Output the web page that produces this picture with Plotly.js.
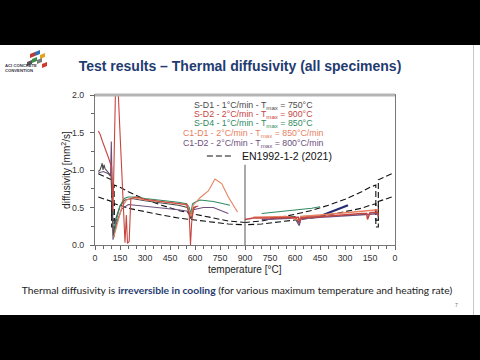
<!DOCTYPE html>
<html><head><meta charset="utf-8">
<script src="https://cdn.plot.ly/plotly-3.0.1.min.js"></script>
<style>
body{margin:0;background:#000;}
#slide{position:relative;width:480px;height:360px;overflow:hidden;background:#fff;}
.bar{position:absolute;left:0;width:480px;background:#000;z-index:5;}
#plot{position:absolute;left:0;top:0;width:480px;height:360px;z-index:1;}
#title{position:absolute;left:0;width:480px;top:58px;line-height:16px;text-align:center;font-weight:bold;font-size:14px;font-family:"Liberation Sans",Arial,sans-serif;color:#1f3b70;z-index:3;}
#foot{position:absolute;left:0;width:474px;top:284px;line-height:13px;text-align:center;font-size:10.3px;font-family:Lato,"Open Sans",sans-serif;color:#222;z-index:3;}
#foot b{color:#1f3b70;}
#num{position:absolute;left:455px;top:302px;font-size:5px;font-family:"Liberation Sans",Arial;color:#666;z-index:3;}
#edge{position:absolute;left:473px;top:45px;width:1px;height:270px;background:#c8c8c8;z-index:3;}
.blk{position:absolute;width:5px;height:4px;z-index:3;transform:skewY(-20deg);}
#logotxt{position:absolute;left:5px;top:64px;font:bold 4.2px "Liberation Sans",Arial;line-height:4.6px;color:#334;z-index:3;}
</style></head>
<body>
<div id="slide">
  <div class="bar" style="top:0;height:45px;"></div>
  <div class="bar" style="top:315px;height:45px;"></div>
  <div id="edge"></div>
  <div class="blk" style="left:30px;top:53px;background:#c0392b"></div>
  <div class="blk" style="left:35px;top:51px;background:#2e6fb5"></div>
  <div class="blk" style="left:40px;top:54px;background:#e5a31c"></div>
  <div class="blk" style="left:32px;top:58px;background:#3b8f4a"></div>
  <div class="blk" style="left:37px;top:59px;background:#7a7a7a"></div>
  <div class="blk" style="left:42px;top:63px;background:#d13a2a"></div>
  <div class="blk" style="left:27px;top:61px;background:#555"></div>
  <div id="logotxt">ACI CONCRETE<br>CONVENTION</div>
  <div id="title">Test results – Thermal diffusivity (all specimens)</div>
  <div id="foot">Thermal diffusivity is <b>irreversible in cooling</b> (for various maximum temperature and heating rate)</div>
  <div id="num">7</div>
  <div id="plot"></div>
</div>
<script>
// ---- axis labels ----
const tickLabels = ['0','150','300','450','600','750','900','750','600','450','300','150','0'];
const yTickLabels = ['0.0','0.5','1.0','1.5','2.0'];
const maxTemp = 900;

// ---- EN1992-1-2 (2021) limits (heating; mirrored in cooling) ----
const enTemps = [20, 60, 100, 100, 115, 115, 150, 200, 300, 400, 500, 600, 700, 800, 900];
const enUpper = [0.95, 0.91, 0.87, 0.33, 0.33, 0.80, 0.77, 0.71, 0.61, 0.53, 0.46, 0.41, 0.36, 0.32, 0.30];
const enLower = [0.64, 0.61, 0.58, 0.24, 0.24, 0.55, 0.53, 0.49, 0.44, 0.40, 0.36, 0.33, 0.30, 0.28, 0.27];

// ---- S-D1 ----
const sd1HeatT = [20, 30, 38, 43, 48, 54, 60, 70, 85, 96, 104, 110, 125, 150, 180, 220, 300, 400, 500, 555, 568, 576, 588, 610];
const sd1HeatD = [0.98, 1.0, 1.05, 1.09, 1.0, 1.07, 1.02, 0.99, 0.95, 0.92, 0.5, 0.12, 0.35, 0.52, 0.6, 0.62, 0.59, 0.56, 0.53, 0.5, 0.42, 0.35, 0.48, 0.52];
const sd1CoolT = [750, 700, 600, 578, 570, 560, 450, 432];
const sd1CoolD = [0.36, 0.37, 0.38, 0.3, 0.33, 0.38, 0.39, 0.4];
const sd1CoolT2 = [432, 400, 360, 320, 282];
const sd1CoolD2 = [0.4, 0.43, 0.46, 0.5, 0.53];

// ---- S-D2 ----
const sd2HeatT = [20, 30, 45, 60, 80, 95, 100, 108, 118, 128, 150, 170, 180, 188, 195, 205, 215, 250, 300, 400, 500, 550, 565, 573, 580, 592, 620];
const sd2HeatD = [1.52, 1.48, 1.38, 1.3, 1.17, 1.07, 1.04, 0.45, 1.6, 2.6, 1.5, 0.5, 0.03, 0.4, 0.02, 0.05, 0.62, 0.64, 0.61, 0.58, 0.56, 0.54, 0.42, 0.0, 0.3, 0.5, 0.52];
const sd2CoolT = [900, 850, 750, 650, 580, 573, 565, 500, 400, 300, 200, 170, 165, 150, 105, 100];
const sd2CoolD = [0.34, 0.36, 0.36, 0.37, 0.37, 0.3, 0.36, 0.37, 0.39, 0.4, 0.42, 0.42, 0.34, 0.43, 0.44, 0.38];

// ---- S-D4 ----
const sd4HeatT = [112, 130, 150, 175, 200, 250, 300, 400, 500, 550, 565, 575, 585, 600, 630, 710, 810];
const sd4HeatD = [0.1, 0.35, 0.52, 0.62, 0.64, 0.64, 0.62, 0.6, 0.57, 0.55, 0.5, 0.42, 0.55, 0.57, 0.6, 0.58, 0.53];
const sd4CoolT = [800, 700, 600, 500, 450];
const sd4CoolD = [0.42, 0.44, 0.46, 0.49, 0.51];

// ---- C1-D1 ----
const c1d1HeatT = [112, 135, 160, 190, 230, 300, 400, 500, 555, 568, 577, 590, 630, 680, 720, 760, 800, 855];
const c1d1HeatD = [0.1, 0.3, 0.5, 0.6, 0.63, 0.6, 0.58, 0.55, 0.53, 0.45, 0.38, 0.53, 0.63, 0.72, 0.88, 0.82, 0.64, 0.44];
const c1d1CoolT = [850, 750, 650, 573, 565, 450, 350, 250, 150, 100];
const c1d1CoolD = [0.37, 0.38, 0.38, 0.33, 0.38, 0.4, 0.42, 0.44, 0.46, 0.47];

// ---- C1-D2 ----
const c1d2HeatT = [20, 50, 80, 93, 98, 103, 108, 130, 160, 200, 300, 400, 500, 555, 568, 576, 590, 650, 710, 760, 800];
const c1d2HeatD = [0.96, 0.98, 0.95, 0.92, 1.38, 0.6, 0.07, 0.3, 0.48, 0.54, 0.52, 0.5, 0.47, 0.45, 0.4, 0.35, 0.47, 0.5, 0.5, 0.45, 0.42];
const c1d2CoolT = [800, 700, 600, 575, 565, 450, 350, 250, 150, 100];
const c1d2CoolD = [0.34, 0.35, 0.36, 0.26, 0.35, 0.37, 0.38, 0.4, 0.41, 0.42];

const legendTexts = [
  'S-D1 - 1°C/min - T<sub>max</sub> = 750°C',
  'S-D2 - 2°C/min - T<sub>max</sub> = 900°C',
  'S-D4 - 1°C/min - T<sub>max</sub> = 850°C',
  'C1-D1 - 2°C/min - T<sub>max</sub> = 850°C/min',
  'C1-D2 - 2°C/min - T<sub>max</sub> = 800°C/min'
];
const enLabel = 'EN1992-1-2 (2021)';

const C = {sd1:'#4a4a4a', sd2:'#c8453f', sd4:'#2f8a62', c1d1:'#e8805f', c1d2:'#6d4f7d', navy:'#262a70', en:'#111'};

const coolX = arr => arr.map(t => 2*maxTemp - t);

function line(x, y, color, width, dash){
  return {x:x, y:y, type:'scatter', mode:'lines', hoverinfo:'skip',
          line:{color:color, width:width||1.1, dash:dash||'solid'}};
}
const enDash = '6px,3px';
const traces = [
  line(enTemps, enUpper, C.en, 1.1, enDash),
  line(enTemps, enLower, C.en, 1.1, enDash),
  line(coolX(enTemps), enUpper, C.en, 1.1, enDash),
  line(coolX(enTemps), enLower, C.en, 1.1, enDash),
  line(c1d2HeatT, c1d2HeatD, C.c1d2),
  line(coolX(c1d2CoolT), c1d2CoolD, C.c1d2, 1.4),
  line(sd1HeatT, sd1HeatD, C.sd1),
  line(coolX(sd1CoolT), sd1CoolD, C.sd1),
  line(coolX(sd1CoolT2), sd1CoolD2, C.navy, 2.2),
  line(sd4HeatT, sd4HeatD, C.sd4),
  line(coolX(sd4CoolT), sd4CoolD, C.sd4),
  line(c1d1HeatT, c1d1HeatD, C.c1d1),
  line(coolX(c1d1CoolT), c1d1CoolD, C.c1d1, 1.4),
  line(sd2HeatT, sd2HeatD, C.sd2),
  line(coolX(sd2CoolT), sd2CoolD, C.sd2, 1.5)
];

const legendColors = [C.sd1, C.sd2, C.sd4, C.c1d1, C.c1d2];
const legendY = [0.933, 0.873, 0.813, 0.746, 0.68];
const font = '"Liberation Sans", Arial, sans-serif';
const annotations = legendTexts.map((t,i) => ({
  text:t, xref:'paper', yref:'paper', x:0.527, y:legendY[i], xanchor:'center', yanchor:'middle',
  showarrow:false, font:{family:font, size:8.8, color:legendColors[i]}
}));
annotations.push({text:enLabel, xref:'paper', yref:'paper', x:0.483, y:0.593, xanchor:'left', yanchor:'middle',
  showarrow:false, font:{family:font, size:10.5, color:'#111'}});
annotations.push({text:'diffusivity [mm<sup>2</sup>/s]', xref:'paper', yref:'paper', x:-0.097, y:0.5, textangle:-90,
  xanchor:'center', yanchor:'middle', showarrow:false, font:{family:font, size:10, color:'#222'}});
annotations.push({text:'temperature [°C]', xref:'paper', yref:'paper', x:0.5, y:-0.16,
  xanchor:'center', yanchor:'middle', showarrow:false, font:{family:font, size:10, color:'#222'}});

const layout = {
  width:480, height:360,
  margin:{l:95, r:85, t:95, b:115, pad:0},
  paper_bgcolor:'rgba(0,0,0,0)', plot_bgcolor:'#fff',
  showlegend:false,
  xaxis:{range:[0, 2*maxTemp], tickmode:'array',
    tickvals:tickLabels.map((_,i)=>i*150), ticktext:tickLabels,
    ticks:'outside', ticklen:4, tickcolor:'#666', showline:true, linecolor:'#777', linewidth:1, mirror:true,
    showgrid:false, zeroline:false, tickfont:{family:font, size:8.8, color:'#333'},
    minor:{tickmode:'linear', tick0:0, dtick:50, ticks:'outside', ticklen:3, tickcolor:'#666', showgrid:false}},
  yaxis:{range:[0,2], tickmode:'array', tickvals:yTickLabels.map(Number), ticktext:yTickLabels,
    ticks:'outside', ticklen:4, tickcolor:'#666', showline:true, linecolor:'#777', linewidth:1, mirror:true,
    ticklabelstandoff:4,
    showgrid:false, zeroline:false, tickfont:{family:font, size:8.8, color:'#333'},
    minor:{tickmode:'linear', tick0:0, dtick:0.25, ticks:'outside', ticklen:3, tickcolor:'#666', showgrid:false}},
  shapes:[
    {type:'line', xref:'x', yref:'y', x0:maxTemp, x1:maxTemp, y0:0, y1:1.07, line:{color:'#555', width:1}},
    {type:'line', xref:'paper', yref:'paper', x0:0, x1:1, y0:1, y1:1, line:{color:'#b5b5b5', width:3}},
    {type:'line', xref:'paper', yref:'paper', x0:0.373, x1:0.457, y0:0.593, y1:0.593, line:{color:'#111', width:1.1, dash:enDash}}
  ],
  annotations:annotations
};
Plotly.newPlot('plot', traces, layout, {staticPlot:true, displayModeBar:false});
</script>
</body></html>
